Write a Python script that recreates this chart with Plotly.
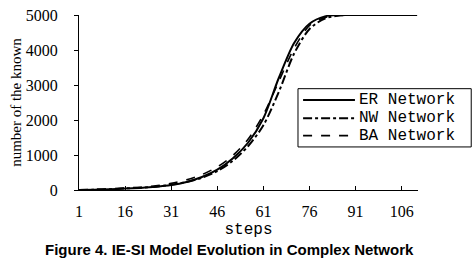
import plotly.graph_objects as go

steps = [1, 6, 11, 16, 21, 26, 31, 36, 41, 46, 51, 56, 61, 66, 71, 76, 81, 86, 91, 96, 101, 106, 111]
er = [0, 10, 20, 40, 60, 90, 140, 230, 370, 580, 900, 1350, 2050, 3200, 4200, 4750, 4960, 5000, 5000, 5000, 5000, 5000, 5000]
nw = [0, 10, 25, 45, 65, 95, 150, 230, 350, 540, 830, 1250, 1850, 2800, 3900, 4600, 4900, 4990, 5000, 5000, 5000, 5000, 5000]
ba = [0, 15, 30, 55, 80, 120, 190, 290, 440, 660, 980, 1450, 2150, 3100, 4050, 4700, 4930, 4990, 5000, 5000, 5000, 5000, 5000]
x_ticks = [1, 16, 31, 46, 61, 76, 91, 106]
y_ticks = [0, 1000, 2000, 3000, 4000, 5000]
names = ["ER Network", "NW Network", "BA Network"]

styles = [("solid", 2), ("dashdot", 2), ("dash", 1.6)]
series = [er, nw, ba]

fig = go.Figure()
for name, vals, (dash, w) in zip(names, series, styles):
    fig.add_trace(go.Scatter(x=steps, y=vals, mode="lines", name=name, showlegend=False,
                             line=dict(color="black", width=w, dash=dash, shape="spline", smoothing=0.8)))

serif = "Liberation Serif"
mono = "Liberation Mono"

# legend drawn as a boxed key in paper coordinates
shapes = [dict(type="rect", xref="paper", yref="paper", x0=0.646, x1=1.157, y0=0.246, y1=0.579,
               line=dict(color="black", width=1), fillcolor="white", layer="above")]
annotations = []
row_y = [0.514, 0.410, 0.311]
for name, (dash, w), ry in zip(names, styles, row_y):
    shapes.append(dict(type="line", xref="paper", yref="paper", x0=0.661, x1=0.814, y0=ry, y1=ry,
                       line=dict(color="black", width=w, dash=dash), layer="above"))
    annotations.append(dict(text=name, xref="paper", yref="paper", x=0.82, y=ry,
                            xanchor="left", yanchor="middle", showarrow=False,
                            font=dict(family=mono, size=16, color="black")))

annotations.append(dict(text="<b>Figure 4. IE-SI Model Evolution in Complex Network</b>",
                        xref="paper", yref="paper", x=0.445, y=-0.392, xanchor="center", yanchor="bottom",
                        borderpad=0, showarrow=False,
                        font=dict(family="Liberation Sans", size=15, color="black")))

fig.update_layout(
    width=474, height=258,
    margin=dict(l=79, r=56, t=7, b=68),
    paper_bgcolor="white", plot_bgcolor="white",
    showlegend=False,
    shapes=shapes,
    annotations=annotations,
    xaxis=dict(range=[1, 111.3], tickvals=x_ticks, ticktext=[str(v) for v in x_ticks],
               showgrid=False, zeroline=False, showline=True, linecolor="black", linewidth=1,
               ticks="inside", ticklen=4, tickcolor="black", ticklabelstandoff=7,
               tickfont=dict(family=serif, size=16, color="black"),
               title=dict(text="steps", font=dict(family=mono, size=16, color="black"), standoff=3)),
    yaxis=dict(range=[0, 5000], tickvals=y_ticks, ticklabeloverflow="allow",
               showgrid=False, zeroline=False, showline=True, linecolor="black", linewidth=1,
               ticks="outside", ticklen=4, tickcolor="black", ticklabelstandoff=13,
               tickfont=dict(family=serif, size=16, color="black"),
               title=dict(text="number of the known", font=dict(family=serif, size=15, color="black"), standoff=0)),
)
fig.write_html("out.html")
